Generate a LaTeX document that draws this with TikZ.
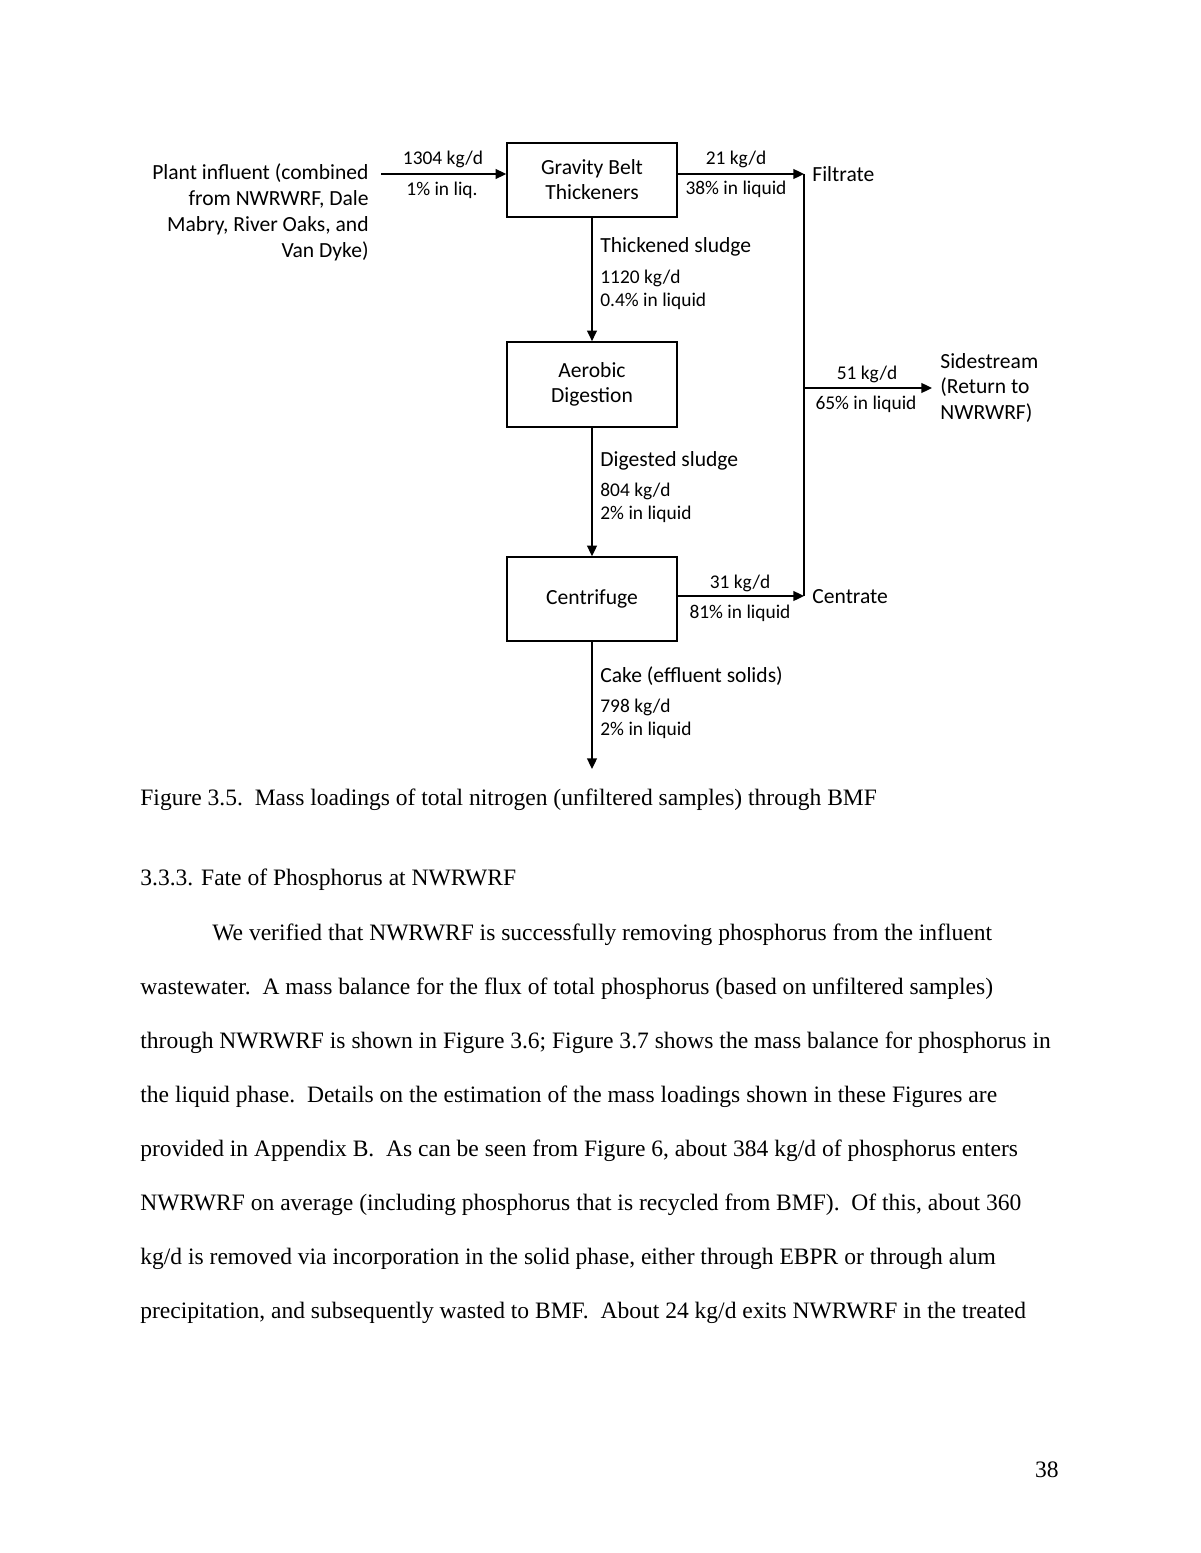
\documentclass[tikz,border=0pt]{standalone}
\usepackage{fontspec}
\setmainfont{Liberation Serif}
\newfontfamily\dgfont{Carlito}
\usetikzlibrary{arrows.meta}
\begin{document}
\begin{tikzpicture}[x=0.51pt,y=-0.51pt,
  box/.style={draw, line width=0.8pt, inner sep=0pt, minimum width=86.7pt, align=center, font=\dgfont\fontsize{11}{12.8}\selectfont},
  dg/.style={font=\dgfont\fontsize{11}{13.2}\selectfont, inner sep=0pt},
  dgs/.style={font=\dgfont\fontsize{9.9}{11.8}\selectfont, inner sep=0pt},
  lbl/.style={dgs, anchor=base},
  lbll/.style={dgs, anchor=base west},
  nmlbl/.style={dg, anchor=base west},
  body/.style={font=\fontsize{12}{14}\selectfont, inner sep=0pt, anchor=base west},
  flow/.style={line width=0.8pt, -{Triangle[length=5.4pt,width=5pt]}},
  pipe/.style={line width=0.8pt}
]
\useasboundingbox[fill=white] (0,0) rectangle (1200,1553);

% boxes
\node[box, minimum height=37.7pt] (gbt) at (592,180) {Gravity Belt\\Thickeners};
\node[box, minimum height=43.4pt] (aer) at (592,384.5) {Aerobic\\Digestion};
\node[box, minimum height=42.8pt] (cen) at (592,599) {Centrifuge};

\node[dg, align=right, anchor=east] (infl) at (369,212.5) {Plant influent (combined\\from NWRWRF, Dale\\Mabry, River Oaks, and\\Van Dyke)};

% free ends
\coordinate (inS) at (381,174);
\coordinate (ft) at (804,174);
\coordinate (sj) at (804,388);
\coordinate (st) at (932,388);
\coordinate (ct) at (804,596);
\coordinate (cake) at (592,769);

\draw[flow] (inS) -- (inS -| gbt.west);
\draw[flow] (gbt.east |- ft) -- (ft);
\draw[flow] (gbt.south) -- (aer.north);
\draw[flow] (aer.south) -- (cen.north);
\draw[flow] (cen.east |- ct) -- (ct);
\draw[flow] (cen.south) -- (cake);
\draw[pipe] (ft) -- (ct);
\draw[flow] (sj) -- (st);

% labels
\node[lbl] (l1304) at (443,165) {1304 kg/d};
\node[lbl] (l1pc) at (442,196) {1\% in liq.};
\node[lbl] (l21) at (736,165) {21 kg/d};
\node[lbl] (l38) at (736,195) {38\% in liquid};
\node[nmlbl] (filt) at (812,182) {Filtrate};
\node[nmlbl] (thk) at (600,253) {Thickened sludge};
\node[lbll] (l1120) at (600,283) {1120 kg/d};
\node[lbll] (l04) at (600,306) {0.4\% in liquid};
\node[lbl] (l51) at (867,379) {51 kg/d};
\node[lbl] (l65) at (866,409) {65\% in liquid};
\node[dg, align=left, anchor=west] (side) at (940,388) {Sidestream\\(Return to\\NWRWRF)};
\node[nmlbl] (dig) at (600,466) {Digested sludge};
\node[lbll] (l804) at (600,496) {804 kg/d};
\node[lbll] (l2a) at (600,519) {2\% in liquid};
\node[lbl] (l31) at (740,588) {31 kg/d};
\node[lbl] (l81) at (740,618) {81\% in liquid};
\node[nmlbl] (centr) at (812,603) {Centrate};
\node[nmlbl] (cakel) at (600,682) {Cake (effluent solids)};
\node[lbll] (l798) at (600,712) {798 kg/d};
\node[lbll] (l2b) at (600,735) {2\% in liquid};

% body text
\node[body] (cap) at (140,805) {Figure 3.5.\ \ Mass loadings of total nitrogen (unfiltered samples) through BMF};
\node[body] (sec) at (140,885) {3.3.3. Fate of Phosphorus at NWRWRF};
\node[body] (p1) at (212,940) {We verified that NWRWRF is successfully removing phosphorus from the influent};
\node[body] (p2) at (140,994) {wastewater.\ \ A mass balance for the flux of total phosphorus (based on unfiltered samples)};
\node[body] (p3) at (140,1048) {through NWRWRF is shown in Figure 3.6; Figure 3.7 shows the mass balance for phosphorus in};
\node[body] (p4) at (140,1102) {the liquid phase.\ \ Details on the estimation of the mass loadings shown in these Figures are};
\node[body] (p5) at (140,1156) {provided in Appendix B.\ \ As can be seen from Figure 6, about 384 kg/d of phosphorus enters};
\node[body] (p6) at (140,1210) {NWRWRF on average (including phosphorus that is recycled from BMF).\ \ Of this, about 360};
\node[body] (p7) at (140,1264) {kg/d is removed via incorporation in the solid phase, either through EBPR or through alum};
\node[body] (p8) at (140,1318) {precipitation, and subsequently wasted to BMF.\ \ About 24 kg/d exits NWRWRF in the treated};
\node[body, anchor=base east] (pg) at (1059,1477) {38};
\end{tikzpicture}
\end{document}
